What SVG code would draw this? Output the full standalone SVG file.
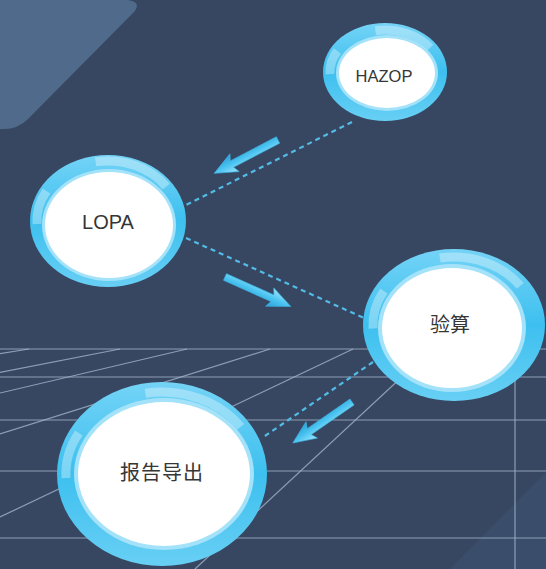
<svg xmlns="http://www.w3.org/2000/svg" width="546" height="569" viewBox="0 0 546 569">
  <defs>
    <linearGradient id="ringGrad" x1="0" y1="0" x2="0" y2="1">
      <stop offset="0" stop-color="#74d3f6"/>
      <stop offset="0.5" stop-color="#3dc0ef"/>
      <stop offset="1" stop-color="#68cff4"/>
    </linearGradient>
    <linearGradient id="arrowGrad" x1="0" y1="0" x2="0" y2="1">
      <stop offset="0" stop-color="#a2e6fb"/>
      <stop offset="0.5" stop-color="#4cc5f1"/>
      <stop offset="1" stop-color="#2a9fd8"/>
    </linearGradient>
    <path id="arrowShape" d="M0,-3.6 L52,-3.6 L49,-10 L72,0 L49,10 L52,3.6 L0,3.6 Z"/>
    <style>
      .grid { stroke: #a3b3ca; stroke-width: 1.2; opacity: 0.8; fill: none; }
      .conn { stroke: #52bce6; stroke-width: 2.2; stroke-dasharray: 5 4; fill: none; }
      .ring { fill: url(#ringGrad); }
      .rim { fill: #a4e2f9; }
      .face { fill: #ffffff; }
      .gloss { fill: none; stroke: #ffffff; stroke-opacity: 0.33; stroke-width: 9; vector-effect: non-scaling-stroke; }
      .label { font-family: "Liberation Sans", "Noto Sans CJK SC", sans-serif; fill: #363636; text-anchor: middle; }
      .arrow { fill: url(#arrowGrad); stroke: #3fb6e8; stroke-width: 0.6; }
    </style>
  </defs>

  <!-- background -->
  <rect x="0" y="0" width="546" height="569" fill="#374762"/>
  <path d="M0,0 L128,0 Q142,2 134,12 L28,119 Q18,129 4,129 L0,129 Z" fill="#506a8b"/>
  <path d="M450,569 L546,472 L546,569 Z" fill="#3a4d6a"/>

  <!-- perspective grid -->
  <g id="grid">
    <line class="grid" x1="0" y1="349" x2="546" y2="349"/>
    <line class="grid" x1="0" y1="377" x2="546" y2="377"/>
    <line class="grid" x1="0" y1="420" x2="546" y2="420"/>
    <line class="grid" x1="0" y1="471" x2="546" y2="471"/>
    <line class="grid" x1="0" y1="538" x2="546" y2="538"/>
    <line class="grid" x1="29" y1="349" x2="0" y2="353.6"/>
    <line class="grid" x1="120" y1="349" x2="0" y2="372.4"/>
    <line class="grid" x1="187" y1="349" x2="0" y2="393"/>
    <line class="grid" x1="270" y1="349" x2="0" y2="434"/>
    <line class="grid" x1="353" y1="349" x2="0" y2="517"/>
    <line class="grid" x1="432" y1="349" x2="195" y2="569"/>
    <line class="grid" x1="515" y1="349" x2="515" y2="569"/>
  </g>

  <!-- connectors -->
  <g id="connectors">
    <line class="conn" x1="352" y1="122" x2="186" y2="205"/>
    <line class="conn" x1="186" y1="238" x2="364" y2="318"/>
    <line class="conn" x1="373" y1="362" x2="262" y2="438"/>
    <use href="#arrowShape" class="arrow" transform="translate(278,140) rotate(152.4)"/>
    <use href="#arrowShape" class="arrow" transform="translate(225,277) rotate(24.1)"/>
    <use href="#arrowShape" class="arrow" transform="translate(352,402) rotate(145.3)"/>
  </g>

  <!-- nodes -->
  <g id="node-hazop" transform="translate(385,72)">
    <ellipse class="ring" rx="62" ry="49"/>
    <g transform="scale(55,42)">
      <path class="gloss" d="M-0.174,-0.985 A1,1 0 0 1 0.819,-0.574"/>
      <path class="gloss" d="M-1,0.05 A1,1 0 0 1 -0.866,-0.5"/>
    </g>
    <ellipse class="rim" cx="2" cy="1" rx="51" ry="38"/>
    <ellipse class="face" cx="2" cy="1" rx="48" ry="35"/>
    <text class="label" x="-1" y="10" font-size="16.5">HAZOP</text>
  </g>

  <g id="node-lopa" transform="translate(108,221)">
    <ellipse class="ring" rx="78" ry="66"/>
    <g transform="scale(71,60)">
      <path class="gloss" d="M-0.174,-0.985 A1,1 0 0 1 0.819,-0.574"/>
      <path class="gloss" d="M-1,0.05 A1,1 0 0 1 -0.866,-0.5"/>
    </g>
    <ellipse class="rim" cx="1" cy="4" rx="67" ry="56"/>
    <ellipse class="face" cx="1" cy="4" rx="64" ry="53"/>
    <text class="label" x="0" y="8" font-size="20">LOPA</text>
  </g>

  <g id="node-yansuan" transform="translate(454,325)">
    <ellipse class="ring" rx="91" ry="76"/>
    <g transform="scale(81,68)">
      <path class="gloss" d="M-0.174,-0.985 A1,1 0 0 1 0.819,-0.574"/>
      <path class="gloss" d="M-1,0.05 A1,1 0 0 1 -0.866,-0.5"/>
    </g>
    <ellipse class="rim" cx="-2" cy="3" rx="74" ry="64"/>
    <ellipse class="face" cx="-2" cy="3" rx="70" ry="60"/>
    <text class="label" x="-4" y="7" font-size="20">验算</text>
  </g>

  <g id="node-baogao" transform="translate(162,474)">
    <ellipse class="ring" rx="105" ry="92"/>
    <g transform="scale(96,82)">
      <path class="gloss" d="M-0.174,-0.985 A1,1 0 0 1 0.819,-0.574"/>
      <path class="gloss" d="M-1,0.05 A1,1 0 0 1 -0.866,-0.5"/>
    </g>
    <ellipse class="rim" cx="2" cy="0" rx="90" ry="76"/>
    <ellipse class="face" cx="2" cy="0" rx="86" ry="72"/>
    <text class="label" x="0" y="6" font-size="20" letter-spacing="1">报告导出</text>
  </g>
</svg>
